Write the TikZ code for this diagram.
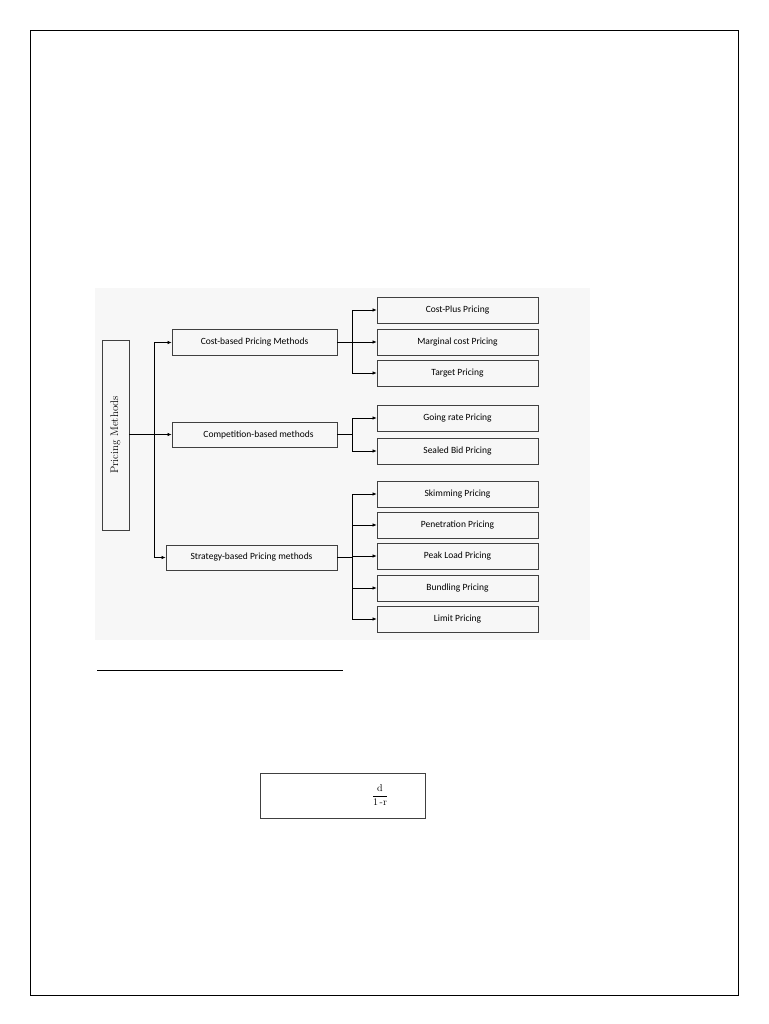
\documentclass[tikz,border=0pt]{standalone}
\usepackage{fontspec}
\setsansfont{Carlito}
\usetikzlibrary{arrows.meta}
\begin{document}
\begin{tikzpicture}[x=1pt,y=-1pt,
  bx/.style={draw=black!75,line width=0.8pt,minimum height=26pt,font=\sffamily\fontsize{9.5}{11}\selectfont,inner sep=0pt},
  rb/.style={bx,minimum width=161pt},
  ar/.style={-{Latex[length=4pt,width=3.5pt]},line width=0.6pt}]
\useasboundingbox (0,0) rectangle (768,1024);
\draw[line width=0.6pt] (30,30) rectangle (738,995);
\fill[black!3] (95,288) rectangle (590,640);
\node[bx,minimum width=27pt,minimum height=190pt] (pm) at (115.5,435) {};
\node[rotate=90,font=\rmfamily\fontsize{11}{12}\selectfont] at (pm) {Pricing Methods};
\node[bx,minimum width=165pt] (cb) at (254.5,342.5) {Cost-based Pricing Methods};
\node[bx,minimum width=165pt,minimum height=25pt] (cp) at (254.5,434.5) {\hspace*{8pt}Competition-based methods};
\node[bx,minimum width=171pt,minimum height=25pt] (sb) at (251.5,557.5) {Strategy-based Pricing methods};
\node[rb] (r1) at (457.5,310) {Cost-Plus Pricing};
\node[rb] (r2) at (457.5,342) {Marginal cost Pricing};
\node[rb] (r3) at (457.5,373) {Target Pricing};
\node[rb] (r4) at (457.5,418) {Going rate Pricing};
\node[rb] (r5) at (457.5,451) {Sealed Bid Pricing};
\node[rb] (r6) at (457.5,494) {Skimming Pricing};
\node[rb] (r7) at (457.5,525) {Penetration Pricing};
\node[rb] (r8) at (457.5,556) {Peak Load Pricing};
\node[rb] (r9) at (457.5,588) {Bundling Pricing};
\node[rb] (r10) at (457.5,619) {Limit Pricing};
\coordinate (tr) at (154,0);
\coordinate (br) at (352,0);
\draw[ar] (pm.east |- cp) -- (cp.west);
\draw[ar] (tr |- cp) |- (cb.west);
\draw[ar] (tr |- cp) |- (sb.west);
\draw[line width=0.6pt] (cb.east) -- (br |- cb);
\draw[line width=0.6pt] (cp.east) -- (br |- cp);
\draw[line width=0.6pt] (sb.east) -- (br |- sb);
\foreach \r in {r1,r2,r3}{\draw[ar] (br |- cb) |- (\r.west);}
\foreach \r in {r4,r5}{\draw[ar] (br |- cp) |- (\r.west);}
\foreach \r in {r6,r7,r8,r9,r10}{\draw[ar] (br |- sb) |- (\r.west);}
\draw[line width=0.6pt] (97,670) -- (343,670);
\node[draw=black!75,line width=0.8pt,minimum width=165pt,minimum height=45pt] (fb) at (342.5,795.5) {};
\node[font=\rmfamily\fontsize{10}{12}\selectfont] at (380,795) {$\displaystyle\frac{\mathrm{d}}{1\,\mbox{-}\mathrm{r}}$};
\end{tikzpicture}
\end{document}
